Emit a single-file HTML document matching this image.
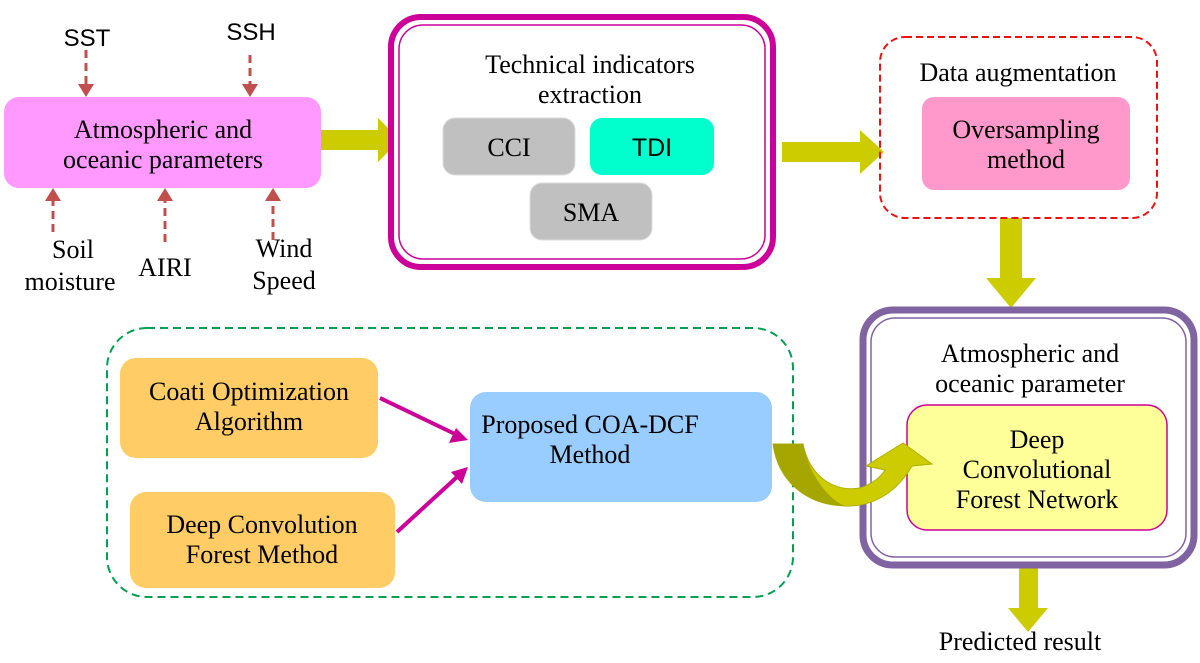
<!DOCTYPE html>
<html><head><meta charset="utf-8"><style>body{margin:0;background:#fff}svg{display:block}text{font-family:"Liberation Serif",serif;font-size:26px;fill:#000;text-anchor:middle}.s{font-family:"Liberation Sans",sans-serif;font-size:24px}</style></head><body>
<svg width="1200" height="663" viewBox="0 0 1200 663">
<!-- left pink box -->
<rect x="4" y="97" width="317" height="91" rx="15" fill="#ff99ff"/>
<text x="163" y="138">Atmospheric and</text>
<text x="163" y="168">oceanic parameters</text>
<text class="s" x="87" y="46">SST</text>
<text class="s" x="251" y="40">SSH</text>
<text x="73" y="258">Soil</text>
<text x="70" y="290">moisture</text>
<text x="165" y="276">AIRI</text>
<text x="284" y="257">Wind</text>
<text x="284" y="289">Speed</text>
<g stroke="#c0504d" stroke-width="3" stroke-dasharray="8,5" fill="none">
<line x1="86" y1="50" x2="86" y2="84"/>
<line x1="250" y1="55" x2="250" y2="84"/>
<line x1="53" y1="232" x2="53" y2="201"/>
<line x1="165" y1="242" x2="165" y2="201"/>
<line x1="273" y1="240" x2="273" y2="201"/>
</g>
<g fill="#c0504d">
<path d="M78,84 L94,84 L86,97z"/><path d="M242,84 L258,84 L250,97z"/>
<path d="M45,201 L61,201 L53,188z"/><path d="M157,201 L173,201 L165,188z"/><path d="M265,201 L281,201 L273,188z"/>
</g>
<!-- yellow arrows -->
<g fill="#cccc00">
<path d="M321,130 L378,130 L378,118 L400,140 L378,162 L378,150 L321,150z"/>
<path d="M782,142 L860,142 L860,130 L884,152 L860,174 L860,162 L782,162z"/>
<path d="M1000,218 L1022,218 L1022,278 L1036,278 L1011,308 L986,278 L1000,278z"/>
<path d="M1019,548 L1038,548 L1038,608 L1048,608 L1028,632 L1008,608 L1019,608z"/>
</g>
<!-- magenta box -->
<rect x="391" y="17" width="382" height="250" rx="30" fill="#fff" stroke="#cc0099" stroke-width="6"/>
<rect x="399" y="25" width="366" height="234" rx="24" fill="none" stroke="#cc0099" stroke-width="1.5"/>
<text x="590" y="73">Technical indicators</text>
<text x="590" y="103">extraction</text>
<rect x="443" y="118" width="132" height="57" rx="12" fill="#c0c0c0" stroke="#ddd"/>
<text x="509" y="156">CCI</text>
<rect x="590" y="118" width="124" height="57" rx="12" fill="#00ffcc"/>
<text class="s" x="652" y="156" style="font-size:25px">TDI</text>
<rect x="530" y="183" width="122" height="57" rx="12" fill="#c0c0c0" stroke="#ddd"/>
<text x="591" y="221">SMA</text>
<!-- data augmentation -->
<rect x="880" y="37" width="277" height="181" rx="25" fill="none" stroke="#ee1111" stroke-width="2" stroke-dasharray="7,4"/>
<text x="1018" y="81">Data augmentation</text>
<rect x="922" y="97" width="208" height="93" rx="12" fill="#ff99cc"/>
<text x="1026" y="138">Oversampling</text>
<text x="1026" y="168">method</text>
<!-- purple box -->
<rect x="863" y="310" width="331" height="255" rx="30" fill="#fff" stroke="#8064a2" stroke-width="7"/>
<rect x="871" y="318" width="315" height="239" rx="24" fill="none" stroke="#8064a2" stroke-width="1.5"/>
<text x="1030" y="362">Atmospheric and</text>
<text x="1030" y="392">oceanic parameter</text>
<rect x="907" y="405" width="260" height="125" rx="20" fill="#ffff99" stroke="#cc0099" stroke-width="1.5"/>
<text x="1037" y="448">Deep</text>
<text x="1037" y="478">Convolutional</text>
<text x="1037" y="508">Forest Network</text>
<text x="1020" y="650">Predicted result</text>
<!-- green dashed -->
<rect x="107" y="328" width="686" height="269" rx="40" fill="none" stroke="#00a050" stroke-width="2" stroke-dasharray="8,5"/>
<rect x="120" y="358" width="258" height="100" rx="16" fill="#ffcc66"/>
<text x="249" y="400">Coati Optimization</text>
<text x="249" y="430">Algorithm</text>
<rect x="130" y="492" width="265" height="96" rx="16" fill="#ffcc66"/>
<text x="262" y="533">Deep Convolution</text>
<text x="262" y="563">Forest Method</text>
<rect x="470" y="392" width="302" height="110" rx="16" fill="#99ccff"/>
<text x="590" y="433">Proposed COA-DCF</text>
<text x="590" y="463">Method</text>
<!-- magenta arrows -->
<g stroke="#cc0099" stroke-width="4"><line x1="380" y1="398" x2="455" y2="434"/><line x1="397" y1="532" x2="457" y2="477"/></g>
<g fill="#cc0099"><path d="M468,440 L449,443 L456,428z"/><path d="M468,467 L462,484 L451,472z"/></g>
<!-- curved arrow -->
<path d="M773,444 L803,444 C810,478 835,492 860,488 C872,484 880,478 885,470 L866,466 L903,443 L932,464 L912,466 C895,495 870,507 845,506 C805,505 778,480 773,444 Z" fill="#cccc00" stroke="#b0b000"/>
<path d="M773,444 L803,444 C810,478 830,500 845,506 C805,505 778,480 773,444 Z" fill="#a6a600"/>
</svg>
</body></html>
